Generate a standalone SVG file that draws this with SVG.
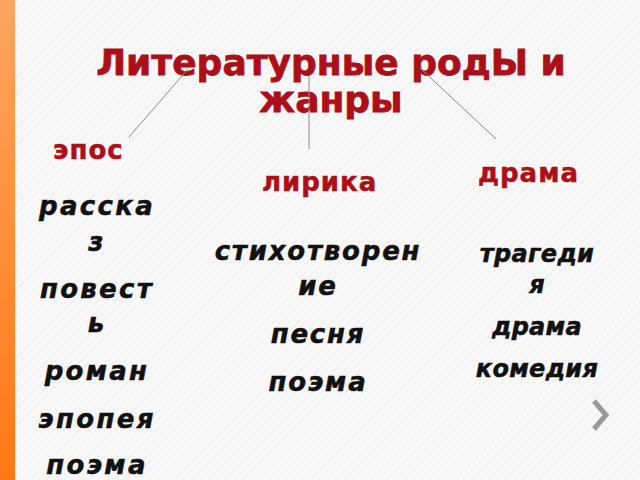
<svg xmlns="http://www.w3.org/2000/svg" width="640" height="480" viewBox="0 0 640 480">
<defs>
<linearGradient id="bar" x1="0" y1="0" x2="0" y2="1">
<stop offset="0" stop-color="#fca55f"/>
<stop offset="1" stop-color="#ff7816"/>
</linearGradient>
<pattern id="tex" width="6" height="6" patternUnits="userSpaceOnUse" patternTransform="rotate(45)">
<rect width="6" height="6" fill="#f8f8f8"/>
<rect width="1" height="6" fill="#efefef"/>
</pattern>
<style>
.title{font-family:"DejaVu Sans",sans-serif;font-weight:bold;font-size:36px;fill:#ad0f19;stroke:#ad0f19;stroke-width:0.8px;text-anchor:middle}
.head{font-family:"DejaVu Sans",sans-serif;font-weight:bold;font-size:26px;fill:#ad0f19;stroke:#ad0f19;stroke-width:0.5px;letter-spacing:1px}
.item{font-family:"DejaVu Sans",sans-serif;font-weight:bold;font-style:italic;fill:#111;stroke:#111;stroke-width:0.5px;text-anchor:middle}
.c1{font-size:26px;letter-spacing:2.3px}
.c2{font-size:26px;letter-spacing:1.8px}
.c3{font-size:24px;letter-spacing:0.3px}
.conn{stroke:#8c8c8c;stroke-width:1;fill:none}
</style>
</defs>
<rect width="640" height="480" fill="url(#tex)"/>
<rect width="15" height="480" fill="url(#bar)"/>
<g id="title">
<text class="title" x="331" y="75">Литературные родЫ и</text>
<text class="title" x="331" y="112">жанры</text>
</g>
<g id="connectors">
<line class="conn" x1="129" y1="137" x2="188" y2="69"/>
<line class="conn" x1="309" y1="76" x2="309" y2="149"/>
<line class="conn" x1="420" y1="68" x2="496" y2="139"/>
</g>
<g id="epos">
<text class="head" x="53" y="159">эпос</text>
<text class="item c1" x="97" y="215">расска</text>
<text class="item c1" x="97" y="251">з</text>
<text class="item c1" x="97" y="298">повест</text>
<text class="item c1" x="97" y="332">ь</text>
<text class="item c1" x="97" y="380">роман</text>
<text class="item c1" x="97" y="428">эпопея</text>
<text class="item c1" x="97" y="474">поэма</text>
</g>
<g id="lirika">
<text class="head" x="262" y="191">лирика</text>
<text class="item c2" x="318" y="260">стихотворен</text>
<text class="item c2" x="318" y="295">ие</text>
<text class="item c2" x="318" y="343">песня</text>
<text class="item c2" x="318" y="391">поэма</text>
</g>
<g id="drama">
<text class="head" x="478" y="182">драма</text>
<text class="item c3" x="537" y="262">трагеди</text>
<text class="item c3" x="537" y="293">я</text>
<text class="item c3" x="537" y="335">драма</text>
<text class="item c3" x="537" y="377">комедия</text>
</g>
<polyline points="594,401 606,415 594,429" fill="none" stroke="#9a9a9a" stroke-width="5"/>
</svg>
